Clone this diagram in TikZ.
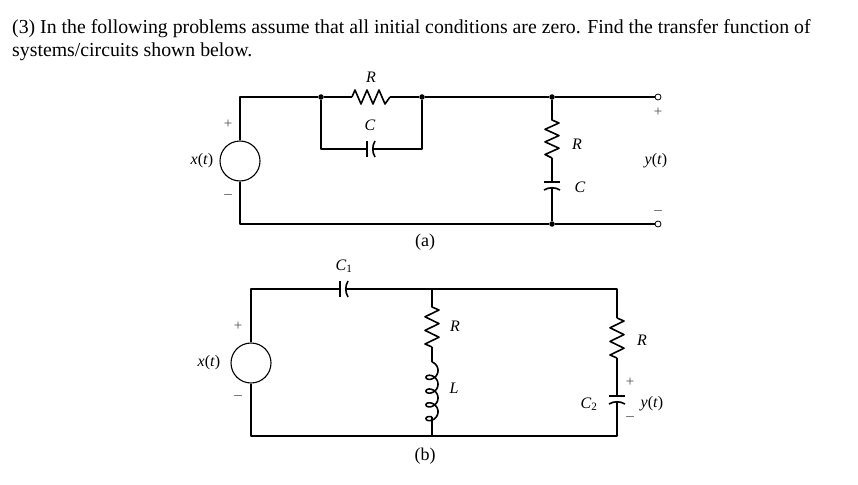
\documentclass[tikz,border=0pt]{standalone}
\usepackage{fontspec}
\setmainfont{Liberation Serif}
\newcommand{\itx}[1]{\textit{#1}}
\begin{document}
\begin{tikzpicture}[x=1pt,y=-1pt,
  wire/.style={line width=1.6pt,line join=round},
  dot/.style={circle,fill,inner sep=0pt,minimum size=5.5pt},
  term/.style={circle,draw,fill=white,inner sep=0pt,minimum size=6pt,line width=0.8pt},
  src/.style={circle,draw,line width=1.1pt,minimum size=40pt,inner sep=0pt},
  lab/.style={font=\fontsize{16}{18}\selectfont},
  sgn/.style={font=\fontsize{15}{17}\selectfont,text=black!70}]
\useasboundingbox (0,0) rectangle (858,484);
\node[anchor=north west,align=left,font=\fontsize{19.8}{23}\selectfont,inner sep=0pt] (title) at (12,19)
 {(3) In the following problems assume that all initial conditions are zero. Find the transfer function of\\systems/circuits shown below.};
% ---------- (a)
\node[src] (sa) at (240,161) {};
\coordinate (a1) at (240,97); \coordinate (a2) at (240,224);
\node[dot] (n1) at (321,97) {}; \node[dot] (n2) at (422,97) {};
\node[dot] (n3) at (552,97) {}; \node[dot] (n4) at (552,224) {};
\node[term] (t1) at (658,97) {}; \node[term] (t2) at (658,224) {};
\coordinate (l1) at (321,149); \coordinate (l2) at (422,149);
\coordinate (ra1) at (352,97); \coordinate (ra2) at (390,97);
\coordinate (ca1) at (367,149); \coordinate (ca2) at (373,149);
\coordinate (rb1) at (552,120); \coordinate (rb2) at (552,158);
\coordinate (cb1) at (552,182); \coordinate (cb2) at (552,188);
\draw[wire] (sa) -- (a1) -- (n1) -- (ra1);
\draw[wire] (ra1) -- ++(3,-7) -- ++(6,14) -- ++(6,-14) -- ++(6,14) -- ++(6,-14) -- ++(6,14) -- (ra2);
\draw[wire] (ra2) -- (n2) -- (n3) -- (t1);
\draw[wire] (n1) -- (l1) -- (ca1); \draw[wire] (ca1)++(0,-8) -- ++(0,16);
\draw[wire] (ca2)++(2,-8) .. controls ++(-3,5) and ++(-3,-5) .. ++(0,16);
\draw[wire] (ca2) -- (l2) -- (n2);
\draw[wire] (n3) -- (rb1) -- ++(7,3) -- ++(-14,6.3) -- ++(14,6.3) -- ++(-14,6.3) -- ++(14,6.3) -- ++(-14,6.3) -- (rb2);
\draw[wire] (rb2) -- (cb1); \draw[wire] (cb1)++(-8,0) -- ++(16,0);
\draw[wire] (cb2)++(-8,2) .. controls ++(5,-3) and ++(-5,-3) .. ++(16,0);
\draw[wire] (cb2) -- (n4);
\draw[wire] (sa) -- (a2) -- (n4) -- (t2);
\node[lab] (xa) at (202,161) {\itx{x}(\itx{t})};
\node[sgn] (pa) at (228,124) {+}; \node[sgn] (ma) at (228,197) {\textendash};
\node[lab] (Ra) at (371,77) {\itx{R}}; \node[lab] (Ca) at (370,125) {\itx{C}};
\node[lab] (Rb) at (577,144) {\itx{R}}; \node[lab] (Cb) at (580,187) {\itx{C}};
\node[lab] (ya) at (656,161) {\itx{y}(\itx{t})};
\node[sgn] (pya) at (658,112) {+}; \node[sgn] (mya) at (658,213) {\textendash};
\node[font=\fontsize{18}{20}\selectfont] (capa) at (425,242) {(a)};
% ---------- (b)
\node[src] (sb) at (251,363) {};
\coordinate (b1) at (251,289); \coordinate (b2) at (251,436);
\coordinate (m1) at (432,289); \coordinate (m2) at (432,436);
\coordinate (r1) at (617,289); \coordinate (r2) at (617,436);
\coordinate (c1a) at (340,289); \coordinate (c1b) at (346,289);
\coordinate (rm1) at (432,307); \coordinate (rm2) at (432,347);
\coordinate (lm1) at (432,362); \coordinate (lm2) at (432,417);
\coordinate (rr1) at (617,318); \coordinate (rr2) at (617,358);
\coordinate (cr1) at (617,396); \coordinate (cr2) at (617,402);
\draw[wire] (sb) -- (b1) -- (c1a); \draw[wire] (c1a)++(0,-8) -- ++(0,16);
\draw[wire] (c1b)++(2,-8) .. controls ++(-3,5) and ++(-3,-5) .. ++(0,16);
\draw[wire] (c1b) -- (m1) -- (r1) -- (rr1);
\draw[wire] (m1) -- (rm1) -- ++(7,3) -- ++(-14,6.8) -- ++(14,6.8) -- ++(-14,6.8) -- ++(14,6.8) -- ++(-14,6.8) -- (rm2);
\draw[wire] (rm2) -- (lm1);
\draw[wire] plot[domain=0:25.13,samples=220,variable=\t] ({432+6*sin(\t r)},{362+2.19*\t+5*(1-cos(\t r))});
\draw[wire] (lm2) -- (m2);
\draw[wire] (rr1) -- ++(7,3) -- ++(-14,6.8) -- ++(14,6.8) -- ++(-14,6.8) -- ++(14,6.8) -- ++(-14,6.8) -- (rr2);
\draw[wire] (rr2) -- (cr1); \draw[wire] (cr1)++(-8,0) -- ++(16,0);
\draw[wire] (cr2)++(-8,2) .. controls ++(5,-3) and ++(-5,-3) .. ++(16,0);
\draw[wire] (cr2) -- (r2) -- (b2) -- (sb);
\node[lab] (xb) at (209,363) {\itx{x}(\itx{t})};
\node[sgn] (pb) at (238,326) {+}; \node[sgn] (mb) at (238,398) {\textendash};
\node[lab] (C1) at (344,266) {\itx{C}\textsubscript{1}};
\node[lab] (Rm) at (455,326) {\itx{R}}; \node[lab] (Lm) at (454,388) {\itx{L}};
\node[lab] (Rr) at (642,340) {\itx{R}}; \node[lab] (C2) at (589,404) {\itx{C}\textsubscript{2}};
\node[lab] (yb) at (652,404) {\itx{y}(\itx{t})};
\node[sgn] (pyb) at (630,382) {+}; \node[sgn] (myb) at (630,419) {\textendash};
\node[font=\fontsize{18}{20}\selectfont] (capb) at (425,456) {(b)};
\end{tikzpicture}
\end{document}
